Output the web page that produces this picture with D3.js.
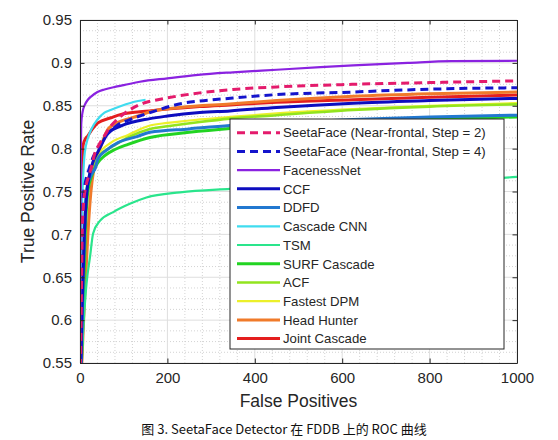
<!DOCTYPE html>
<html>
<head>
<meta charset="utf-8">
<script src="https://cdn.jsdelivr.net/npm/d3@7"></script>
<style>
  body { margin: 0; background: #fff; }
  text { font-family: "Liberation Sans", Arial, Helvetica, sans-serif; }
</style>
</head>
<body>
<div id="roc"></div>
<script>
// values: [false positives, true positive rate]
const seeta2 = [[0,0.50],[3,0.62],[5,0.70],[8,0.735],[13,0.755],[20,0.768],[26,0.778],[33,0.793],[45,0.806],[56,0.815],[70,0.826],[87,0.835],[110,0.844],[148,0.8535],[178,0.857],[220,0.861],[274,0.865],[350,0.869],[450,0.872],[625,0.875],[800,0.877],[1000,0.879]];
const seeta4 = [[0,0.50],[2,0.62],[4,0.70],[7,0.74],[12,0.76],[20,0.775],[30,0.79],[41,0.80],[53,0.811],[71,0.821],[90,0.829],[110,0.833],[148,0.840],[178,0.845],[236,0.853],[274,0.8555],[350,0.859],[450,0.863],[625,0.866],[720,0.868],[840,0.8698],[1000,0.871]];
const facenessNet = [[0,0.50],[1,0.70],[2,0.79],[3,0.83],[6,0.843],[11,0.851],[18,0.857],[26,0.861],[40,0.866],[56,0.869],[80,0.872],[100,0.874],[137,0.878],[200,0.882],[270,0.886],[350,0.889],[450,0.892],[550,0.895],[625,0.897],[750,0.900],[850,0.902],[1000,0.9025]];
const ccf = [[0,0.50],[5,0.62],[10,0.70],[15,0.745],[22,0.77],[30,0.785],[41,0.796],[64,0.818],[94,0.8265],[160,0.835],[200,0.838],[274,0.842],[343,0.844],[450,0.848],[625,0.853],[800,0.856],[1000,0.8586]];
const ddfd = [[0,0.50],[6,0.62],[10,0.70],[15,0.75],[22,0.765],[30,0.773],[34,0.776],[41,0.788],[60,0.798],[87,0.807],[130,0.814],[160,0.819],[250,0.823],[343,0.827],[450,0.830],[625,0.834],[800,0.837],[1000,0.839]];
const cascadeCnn = [[0,0.50],[2,0.65],[4,0.72],[7,0.765],[11,0.7955],[18,0.812],[26,0.8226],[40,0.834],[56,0.842],[70,0.845],[94,0.8497],[133,0.8555],[150,0.857]];
const tsm = [[3,0.53],[4,0.55],[7,0.585],[10,0.61],[15,0.643],[23,0.674],[30,0.701],[46,0.716],[76,0.726],[114,0.7356],[152,0.743],[229,0.749],[343,0.753],[500,0.757],[700,0.761],[900,0.764],[1000,0.767]];
const surfCascade = [[0,0.50],[8,0.62],[12,0.70],[18,0.75],[28,0.77],[40,0.783],[56,0.7915],[80,0.799],[110,0.805],[160,0.813],[250,0.819],[343,0.8235],[450,0.827],[625,0.831],[800,0.834],[1000,0.837]];
const acf = [[0,0.50],[6,0.62],[10,0.70],[15,0.75],[22,0.77],[35,0.785],[50,0.795],[64,0.7995],[110,0.813],[160,0.823],[200,0.826],[274,0.831],[343,0.835],[450,0.839],[625,0.845],[800,0.849],[1000,0.8516]];
const fastestDpm = [[0,0.50],[6,0.62],[10,0.70],[16,0.75],[25,0.775],[40,0.792],[71,0.807],[110,0.816],[160,0.827],[200,0.830],[274,0.834],[343,0.837],[450,0.841],[625,0.846],[800,0.850],[1000,0.853]];
const headHunter = [[0,0.50],[10,0.62],[18,0.70],[25,0.75],[33,0.78],[48,0.803],[64,0.8226],[94,0.832],[133,0.838],[160,0.843],[230,0.848],[343,0.852],[450,0.856],[625,0.861],[800,0.864],[1000,0.866]];
const jointCascade = [[0,0.50],[2,0.70],[4,0.77],[7.6,0.805],[12,0.811],[18,0.815],[30,0.824],[41,0.830],[71,0.836],[94,0.840],[137,0.843],[178,0.845],[274,0.849],[343,0.851],[450,0.854],[625,0.857],[800,0.860],[1000,0.8624]];

const names = ["SeetaFace (Near-frontal, Step = 2)", "SeetaFace (Near-frontal, Step = 4)", "FacenessNet", "CCF", "DDFD",
  "Cascade CNN", "TSM", "SURF Cascade", "ACF", "Fastest DPM", "Head Hunter", "Joint Cascade"];
const series = [seeta2, seeta4, facenessNet, ccf, ddfd, cascadeCnn, tsm, surfCascade, acf, fastestDpm, headHunter, jointCascade];

const xTicks = [0, 200, 400, 600, 800, 1000];
const yTicks = [0.55, 0.6, 0.65, 0.7, 0.75, 0.8, 0.85, 0.9, 0.95];

// styles
const colors = ["#e41b6c", "#1414cc", "#8a22e0", "#0d0dbf", "#2278d0", "#3fdcef", "#2ae58c", "#22d422", "#92e41e", "#ecf02a", "#f07a2a", "#e41e1e"];
const widths = [3, 3, 2.2, 3, 3, 2.2, 2.2, 3, 2.6, 2.2, 3, 3];
const dashed = [true, true, false, false, false, false, false, false, false, false, false, false];

const margin = {top: 20, right: 41, bottom: 77, left: 80},
    width = 558 - margin.left - margin.right,
    height = 440 - margin.top - margin.bottom;

const root = d3.select("#roc")
  .append("svg")
    .attr("width", 558)
    .attr("height", 440);

const svg = root.append("g")
    .attr("transform", `translate(${margin.left},${margin.top})`);

const x = d3.scaleLinear().domain([0, 1000]).range([0, width]);
const y = d3.scaleLinear().domain([0.55, 0.95]).range([height, 0]);

// minor grid (dotted)
svg.append("g")
  .selectAll("line")
  .data(d3.range(0, 1001, 40).filter(v => v % 200 !== 0))
  .join("line")
    .attr("x1", d => x(d)).attr("x2", d => x(d))
    .attr("y1", 0).attr("y2", height)
    .attr("stroke", "#c8c8c8").attr("stroke-width", 0.8)
    .attr("stroke-dasharray", "1,2");
svg.append("g")
  .selectAll("line")
  .data(d3.range(0, 33).map(i => 0.55 + i * 0.0125).filter(v => Math.abs((v - 0.55) / 0.05 - Math.round((v - 0.55) / 0.05)) > 1e-6))
  .join("line")
    .attr("y1", d => y(d)).attr("y2", d => y(d))
    .attr("x1", 0).attr("x2", width)
    .attr("stroke", "#c8c8c8").attr("stroke-width", 0.8)
    .attr("stroke-dasharray", "1,2");

// major grid
svg.append("g")
  .selectAll("line")
  .data(xTicks)
  .join("line")
    .attr("x1", d => x(d)).attr("x2", d => x(d))
    .attr("y1", 0).attr("y2", height)
    .attr("stroke", "#dedede");
svg.append("g")
  .selectAll("line")
  .data(yTicks)
  .join("line")
    .attr("y1", d => y(d)).attr("y2", d => y(d))
    .attr("x1", 0).attr("x2", width)
    .attr("stroke", "#dedede");

svg.append("clipPath").attr("id", "clip")
  .append("rect").attr("width", width).attr("height", height);

const line = d3.line()
  .x(d => x(d[0]))
  .y(d => y(d[1]))
  .curve(d3.curveMonotoneX);

// draw so that the SeetaFace curves end up on top
const order = d3.range(series.length).reverse();
svg.append("g").attr("clip-path", "url(#clip)")
  .selectAll("path")
  .data(order)
  .join("path")
    .attr("d", i => line(series[i]))
    .attr("fill", "none")
    .attr("stroke", i => colors[i])
    .attr("stroke-width", i => widths[i])
    .attr("stroke-dasharray", i => dashed[i] ? "8,5" : null);

// axes, MATLAB style: box with ticks pointing inward
const axisColor = "#262626";
const tickLen = 4.5;
const fmt = d => String(+d.toFixed(2));

svg.append("g")
  .attr("transform", `translate(0,${height})`)
  .call(d3.axisBottom(x).tickValues(xTicks).tickSizeInner(-tickLen).tickSizeOuter(0).tickPadding(9).tickFormat(d3.format("d")));
svg.append("g")
  .call(d3.axisTop(x).tickValues(xTicks).tickSizeInner(-tickLen).tickSizeOuter(0).tickFormat(""));
svg.append("g")
  .call(d3.axisLeft(y).tickValues(yTicks).tickSizeInner(-tickLen).tickSizeOuter(0).tickPadding(8).tickFormat(fmt));
svg.append("g")
  .attr("transform", `translate(${width},0)`)
  .call(d3.axisRight(y).tickValues(yTicks).tickSizeInner(-tickLen).tickSizeOuter(0).tickFormat(""));

svg.selectAll(".domain").attr("stroke", axisColor);
svg.selectAll(".tick line").attr("stroke", axisColor);
svg.selectAll(".tick text")
  .attr("fill", axisColor)
  .style("font-size", "15px")
  .style("font-family", "'Liberation Sans', Arial, sans-serif");

svg.append("text")
  .attr("x", width / 2)
  .attr("y", height + 44)
  .attr("text-anchor", "middle")
  .attr("fill", axisColor)
  .style("font-size", "17.5px")
  .text("False Positives");

svg.append("text")
  .attr("transform", `translate(${28 - margin.left},${height / 2}) rotate(-90)`)
  .attr("text-anchor", "middle")
  .attr("dy", "0.35em")
  .attr("fill", axisColor)
  .style("font-size", "17.5px")
  .text("True Positive Rate");

// legend
const lg = svg.append("g").attr("transform", `translate(${230 - margin.left},${119 - margin.top})`);
lg.append("rect")
  .attr("width", 274).attr("height", 230)
  .attr("fill", "#fff")
  .attr("stroke", axisColor).attr("stroke-width", 1);

const row = lg.selectAll("g.row")
  .data(d3.range(names.length))
  .join("g")
    .attr("class", "row")
    .attr("transform", i => `translate(0,${13.7 + i * 18.72})`);
row.append("line")
  .attr("x1", 7).attr("x2", 50)
  .attr("stroke", i => colors[i])
  .attr("stroke-width", i => widths[i])
  .attr("stroke-dasharray", i => dashed[i] ? "8,5" : null);
row.append("text")
  .attr("x", 53)
  .attr("dy", "0.36em")
  .attr("fill", axisColor)
  .style("font-size", "13.2px")
  .text(i => names[i]);

// caption
root.append("text")
  .attr("x", 284)
  .attr("y", 434)
  .attr("text-anchor", "middle")
  .attr("fill", "#111")
  .style("font-family", "'Noto Sans CJK SC', 'Noto Sans', sans-serif")
  .style("font-size", "13px")
  .text("图 3. SeetaFace Detector 在 FDDB 上的 ROC 曲线");
</script>
</body>
</html>
